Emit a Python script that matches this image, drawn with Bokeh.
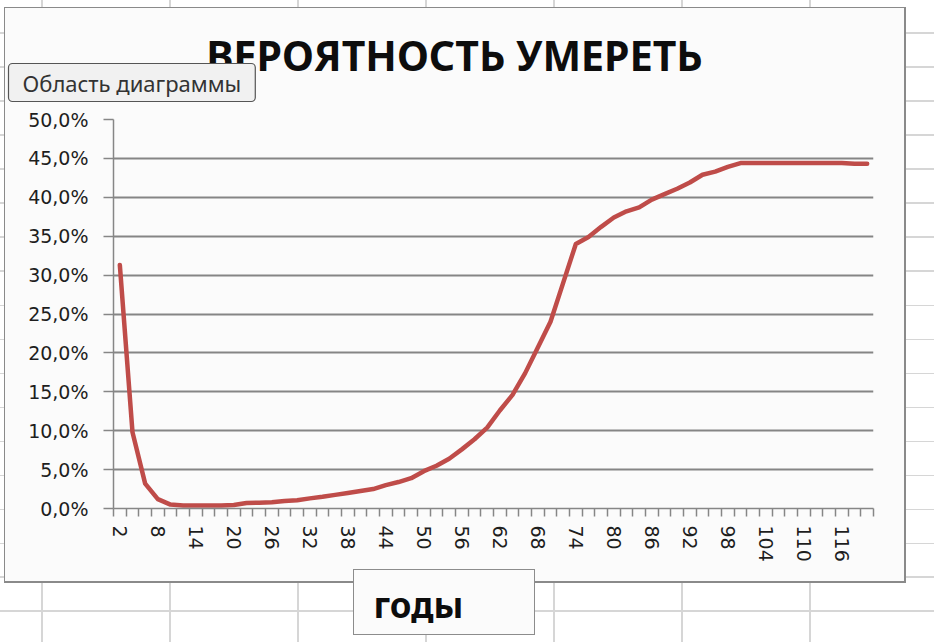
from bokeh.plotting import figure
from bokeh.models import Range1d, FixedTicker, CustomJSTickFormatter, Label
from bokeh.embed import file_html
from bokeh.resources import INLINE

ages = [2, 4, 6, 8, 10, 12, 14, 16, 18, 20,
        22, 24, 26, 28, 30, 32, 34, 36, 38, 40,
        42, 44, 46, 48, 50, 52, 54, 56, 58, 60,
        62, 64, 66, 68, 70, 72, 74, 76, 78, 80,
        82, 84, 86, 88, 90, 92, 94, 96, 98, 100,
        102, 104, 106, 108, 110, 112, 114, 116, 118, 120]
death_prob = [0.313, 0.098, 0.032, 0.012, 0.005, 0.004, 0.004, 0.004, 0.004, 0.0045,
              0.007, 0.0075, 0.008, 0.0095, 0.0105, 0.013, 0.015, 0.0175, 0.020, 0.0225,
              0.025, 0.030, 0.034, 0.039, 0.048, 0.055, 0.064, 0.076, 0.089, 0.104,
              0.126, 0.146, 0.174, 0.207, 0.240, 0.290, 0.340, 0.349, 0.362, 0.374,
              0.382, 0.387, 0.397, 0.404, 0.411, 0.419, 0.429, 0.433, 0.439, 0.444,
              0.444, 0.444, 0.444, 0.444, 0.444, 0.444, 0.444, 0.444, 0.443, 0.443]
x_tick_labels = [2, 8, 14, 20, 26, 32, 38, 44, 50, 56, 62, 68, 74, 80, 86, 92, 98, 104, 110, 116]
y_ticks = [0.0, 0.05, 0.10, 0.15, 0.20, 0.25, 0.30, 0.35, 0.40, 0.45, 0.50]
title_text = "ВЕРОЯТНОСТЬ УМЕРЕТЬ"
x_title_text = "годы"
tooltip_text = "Область диаграммы"

boundaries = [a - 1 for a in ages] + [ages[-1] + 1]

p = figure(width=934, height=642, output_backend="svg", toolbar_location=None,
           x_range=Range1d(boundaries[0], boundaries[-1]), y_range=Range1d(0, 0.5),
           min_border_left=113, min_border_right=61, min_border_top=119, min_border_bottom=134)
p.border_fill_color = None
p.background_fill_color = None
p.outline_line_color = None

p.styles = {
    "background": (
        # axis-title box ("годы")
        "linear-gradient(#fbfbfb,#fbfbfb) 354px 570px / 180px 64px no-repeat, "
        "linear-gradient(#8c8c8c,#8c8c8c) 353px 569px / 182px 66px no-repeat, "
        # chart area
        "linear-gradient(#fbfbfb,#fbfbfb) 5px 8px / 899px 573px no-repeat, "
        "linear-gradient(#8a8a8a,#8a8a8a) 4px 7px / 902px 576px no-repeat, "
        # spreadsheet grid
        "repeating-linear-gradient(90deg, rgba(0,0,0,0) 0px, rgba(0,0,0,0) 41px, #d6d6d6 41px, #d6d6d6 43px, rgba(0,0,0,0) 43px, rgba(0,0,0,0) 128px), "
        "repeating-linear-gradient(180deg, rgba(0,0,0,0) 0px, rgba(0,0,0,0) 32.5px, #d6d6d6 32.5px, #d6d6d6 34px), "
        "#ffffff"
    )
}

axis_color = "#868686"
label_color = "#1e1e1e"

p.xgrid.visible = False
p.ygrid.ticker = FixedTicker(ticks=y_ticks)
p.ygrid.grid_line_color = "#858585"
p.ygrid.grid_line_width = 1.8

xa = p.xaxis[0]
xa.ticker = FixedTicker(ticks=x_tick_labels, minor_ticks=boundaries)
xa.major_tick_out = 0
xa.major_tick_in = 0
xa.minor_tick_out = 8
xa.minor_tick_in = 0
xa.minor_tick_line_color = axis_color
xa.minor_tick_line_width = 1.5
xa.axis_line_color = axis_color
xa.axis_line_width = 1.5
xa.major_label_orientation = "vertical"
xa.major_label_standoff = 9
xa.major_label_text_font = "DejaVu Sans"
xa.major_label_text_font_size = "19px"
xa.major_label_text_color = label_color

ya = p.yaxis[0]
ya.ticker = FixedTicker(ticks=y_ticks, minor_ticks=[])
ya.major_tick_out = 10
ya.major_tick_in = 0
ya.major_tick_line_color = axis_color
ya.major_tick_line_width = 1.5
ya.axis_line_color = axis_color
ya.axis_line_width = 1.5
ya.major_label_standoff = 15
ya.major_label_text_font = "DejaVu Sans"
ya.major_label_text_font_size = "19px"
ya.major_label_text_color = label_color
ya.formatter = CustomJSTickFormatter(code="return (tick*100).toFixed(1).replace('.', ',') + '%';")

p.line(ages, death_prob, line_color="#bf4c49", line_width=4.5, line_join="round", line_cap="round")

# chart title
p.add_layout(Label(x=454, y=54, x_units="canvas", y_units="canvas", text=title_text,
                   text_font="Noto Sans", text_font_size="41px", text_font_style="bold",
                   text_color="#0d0d0d", text_align="center", text_baseline="alphabetic"), "above")

# "Область диаграммы" tooltip
p.add_layout(Label(x=8, y=63, x_units="canvas", y_units="canvas", text=tooltip_text,
                   text_font="Noto Sans", text_font_size="22px", text_color="#333333",
                   text_align="left", text_baseline="top",
                   background_fill_color="#f1f1f1", border_line_color="#555555",
                   border_line_width=1.2, padding=(14, 4), border_radius=4), "above")

# axis title text inside its box
p.add_layout(Label(x=373, y=604, x_units="canvas", y_units="canvas", text=x_title_text,
                   text_font="Noto Sans", text_font_size="35px", text_font_style="bold",
                   text_color="#0d0d0d", text_align="left", text_baseline="alphabetic"), "below")

open("out.html", "w").write(file_html(p, INLINE))
